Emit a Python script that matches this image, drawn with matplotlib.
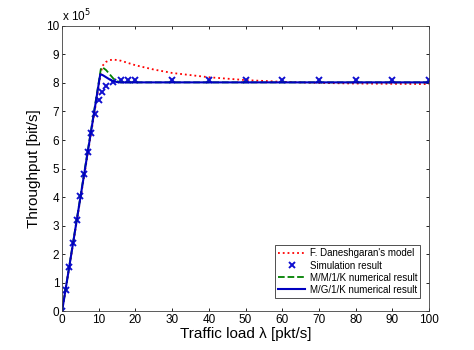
import matplotlib
matplotlib.use("Agg")
import matplotlib.pyplot as plt
import numpy as np

# traffic load [pkt/s] and throughput in units of 1e5 bit/s
sim_x = [0, 1, 2, 3, 4, 5, 6, 7, 8, 9, 10, 11, 12, 14, 16, 18, 20,
         30, 40, 50, 60, 70, 80, 90, 100]
sim_y = [0, 0.75, 1.55, 2.38, 3.2, 4.02, 4.82, 5.58, 6.25, 6.9, 7.39, 7.7, 7.9,
         8.05, 8.1, 8.1, 8.1, 8.1, 8.1, 8.1, 8.1, 8.1, 8.1, 8.1, 8.1]

model_x = [0, 8, 9, 10, 10.5, 11, 12, 13, 14, 16, 20, 25, 30, 40, 50, 60,
           70, 80, 90, 100]
model_y = [0, 6.3, 7.1, 7.9, 8.3, 8.6, 8.74, 8.8, 8.82, 8.78, 8.62, 8.47,
           8.35, 8.2, 8.1, 8.04, 8.0, 7.98, 7.97, 7.96]

mm1k_x = [0, 10.6, 11, 12, 13, 14, 15, 16, 20, 100]
mm1k_y = [0, 8.52, 8.55, 8.45, 8.3, 8.15, 8.06, 8.02, 8.02, 8.02]

mg1k_x = [0, 10.4, 11, 12, 13, 14, 15, 16, 20, 100]
mg1k_y = [0, 8.3, 8.28, 8.2, 8.12, 8.06, 8.03, 8.02, 8.02, 8.02]

plt.rcParams['font.family'] = ['Liberation Sans', 'DejaVu Sans']

fig = plt.figure(figsize=(4.74, 3.5), dpi=100)
ax = fig.add_axes([0.131, 0.111, 0.774, 0.815])

ax.plot(model_x, model_y, ':', color='red', lw=1.3, label="F. Daneshgaran's model")
ax.plot(sim_x, sim_y, 'x', color='#1010d0', ms=4.2, mew=1.4, label='Simulation result')
ax.plot(mm1k_x, mm1k_y, '--', color='green', lw=1.3, label='M/M/1/K numerical result')
ax.plot(mg1k_x, mg1k_y, '-', color='#0000c0', lw=1.5, label='M/G/1/K numerical result')

ax.set_xlim(0, 100)
ax.set_ylim(0, 10)
ax.set_xticks(np.arange(0, 101, 10))
ax.set_yticks(np.arange(0, 11, 1))
ax.tick_params(direction='in', length=2, width=0.6, labelsize=8.5, pad=2,
               top=True, right=True)
for s in ax.spines.values():
    s.set_linewidth(0.6)
    s.set_color('#404040')

ax.text(0.0, 1.005, r'x 10$^5$', transform=ax.transAxes, fontsize=8.5,
        ha='left', va='bottom')

ax.set_xlabel('Traffic load λ [pkt/s]', fontsize=11, labelpad=1)
ax.set_ylabel('Throughput [bit/s]', fontsize=11, labelpad=4)

leg = ax.legend(loc='lower right', fontsize=7, frameon=True, fancybox=False,
                borderpad=0.3, labelspacing=0.22, handlelength=2.8,
                handletextpad=0.5, bbox_to_anchor=(0.99, 0.03))
leg.get_frame().set_edgecolor('black')
leg.get_frame().set_linewidth(0.6)

fig.savefig('out.png', dpi=100)
